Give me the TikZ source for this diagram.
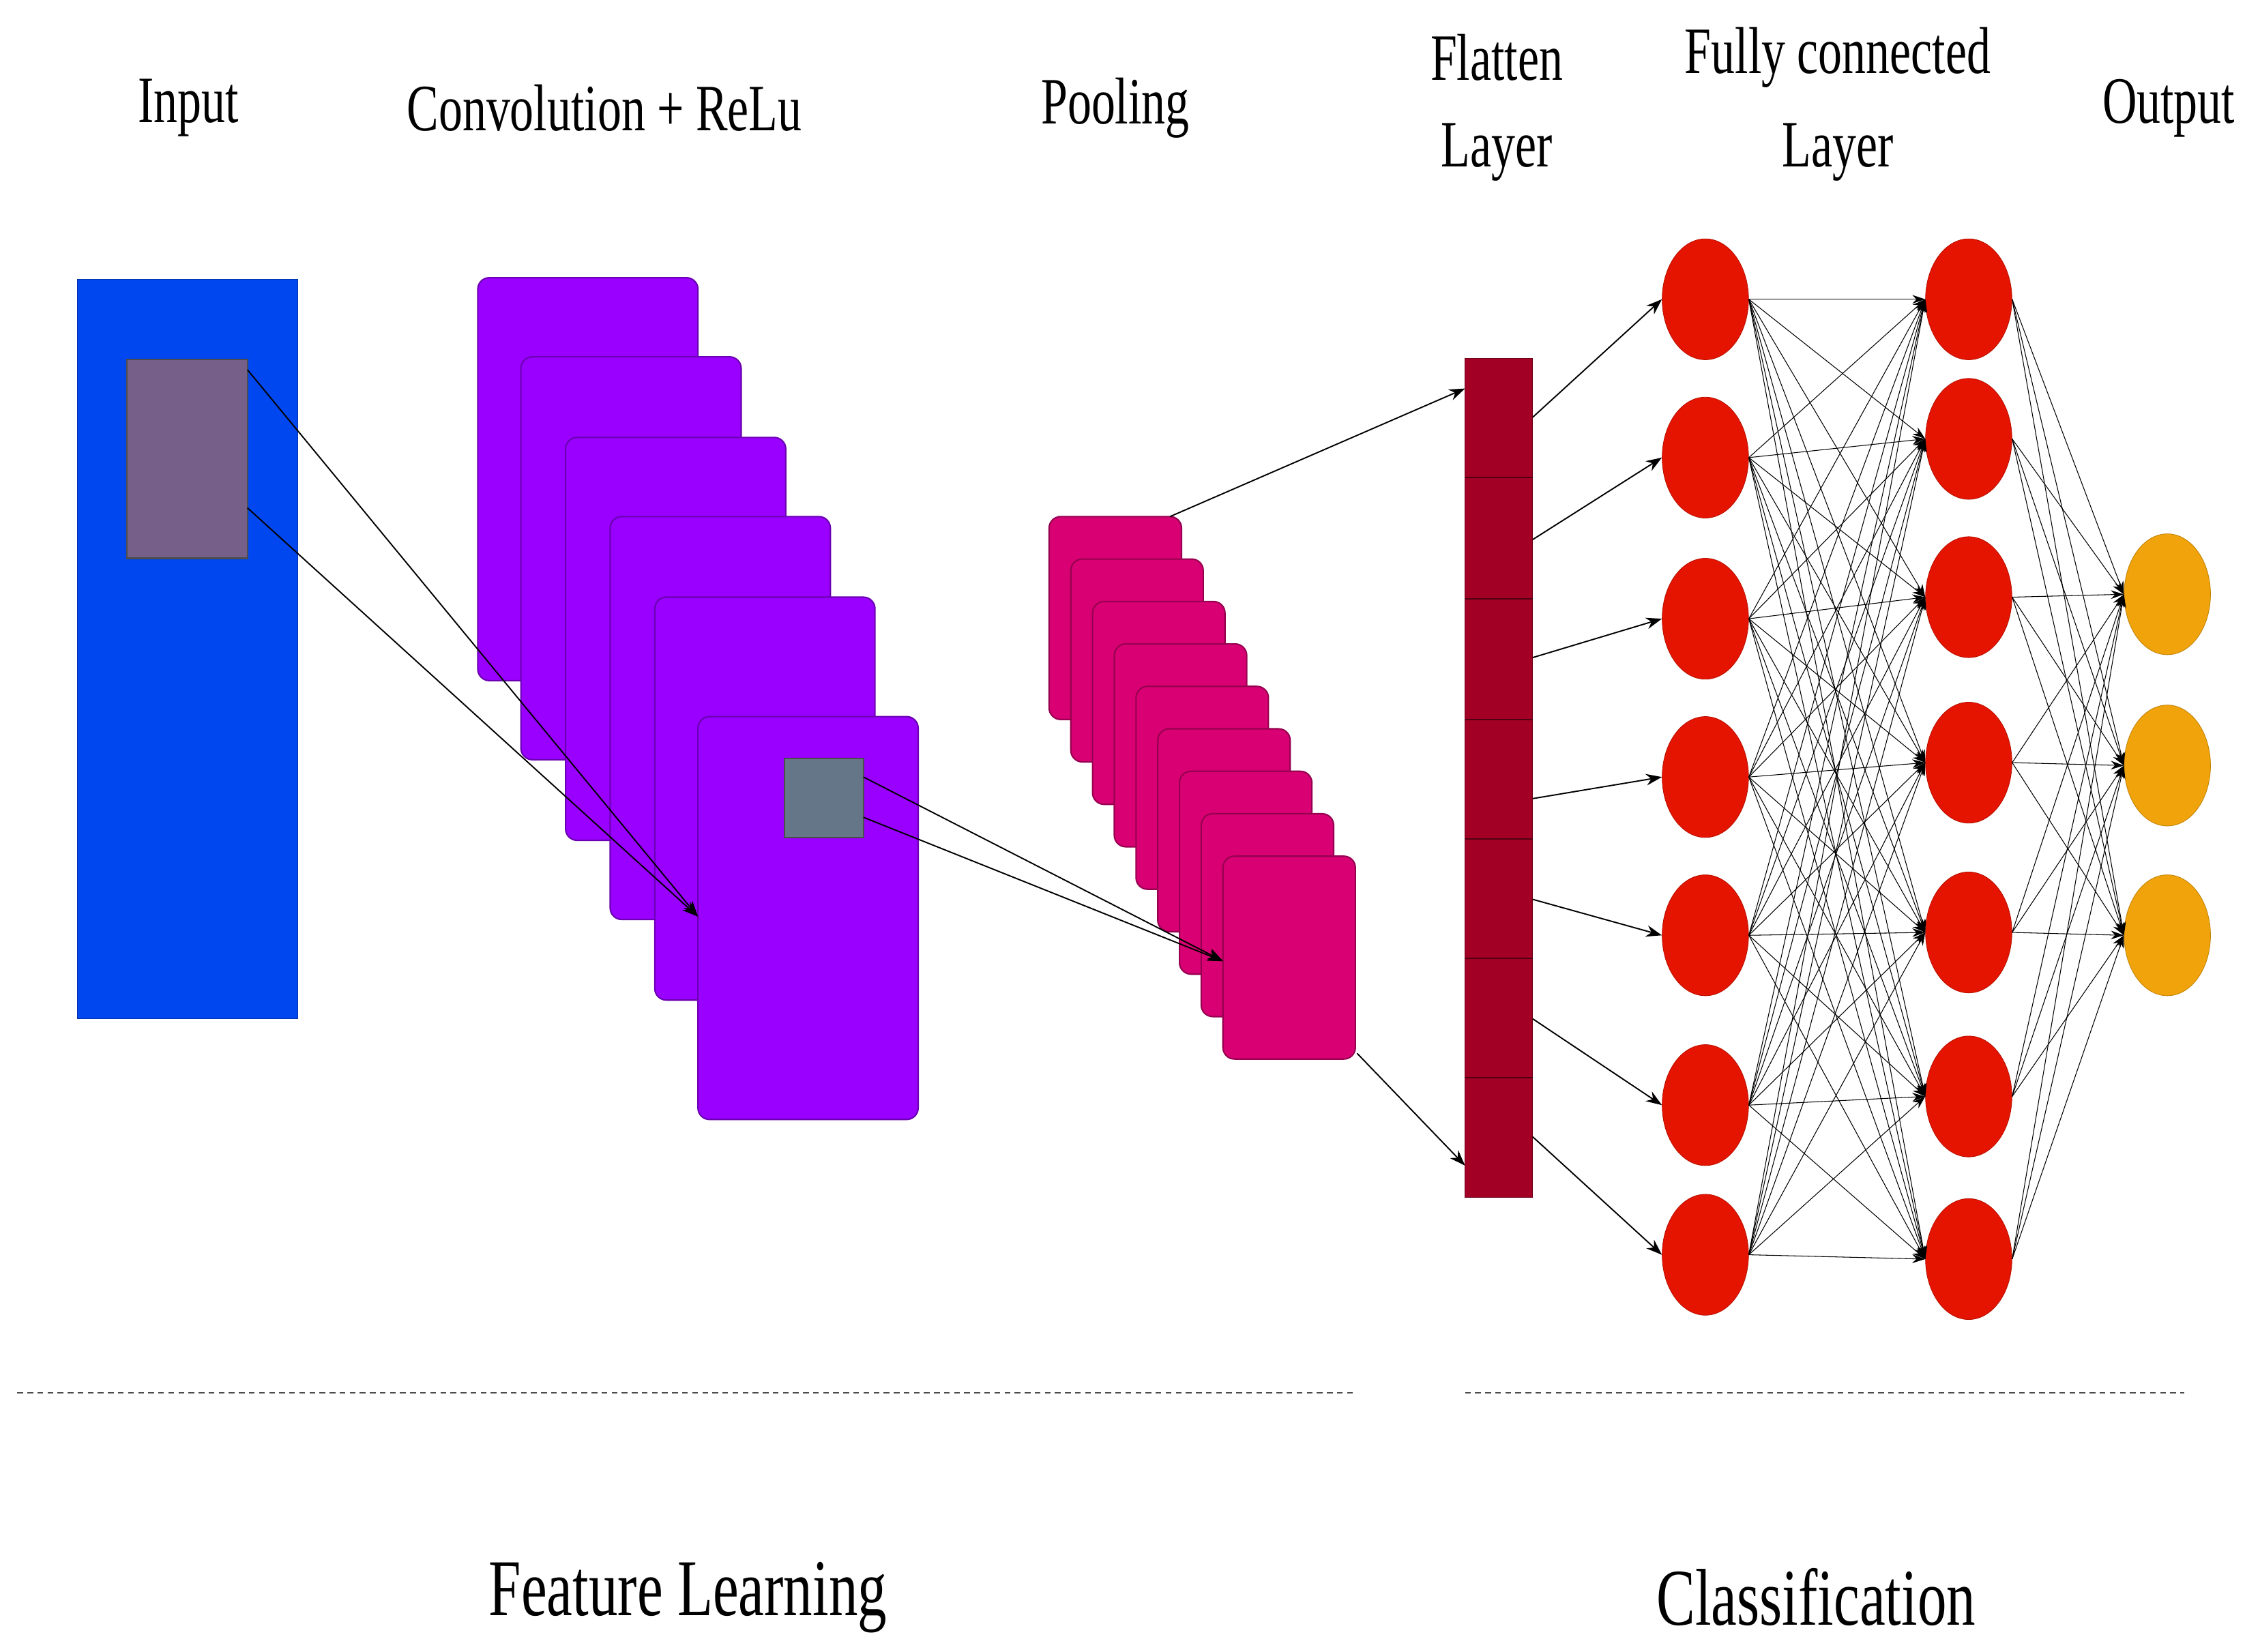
\documentclass[tikz,border=0pt]{standalone}
\usepackage{fontspec}
\setmainfont{Liberation Serif}
\usetikzlibrary{arrows.meta}
\definecolor{inblue}{HTML}{0047F0}
\definecolor{ingray}{HTML}{76608A}
\definecolor{cpurple}{HTML}{9900FF}
\definecolor{cgray}{HTML}{647687}
\definecolor{ppink}{HTML}{D80073}
\definecolor{fred}{HTML}{A20025}
\definecolor{nred}{HTML}{E51400}
\definecolor{oorange}{HTML}{F0A30A}
\begin{document}
\begin{tikzpicture}[x=1pt,y=-1pt,
 lab/.style={font=\fontsize{46}{50}\selectfont, xscale=0.72},
 big/.style={font=\fontsize{56}{60}\selectfont, xscale=0.72},
 conv/.style={draw=cpurple!70!black,fill=cpurple,rounded corners=8pt,line width=1pt},
 pool/.style={draw=ppink!70!black,fill=ppink,rounded corners=8pt,line width=1pt},
 neu/.style={ellipse,draw=nred!80!black,fill=nred,minimum width=60pt,minimum height=84pt,inner sep=0pt},
 outn/.style={ellipse,draw=oorange!80!black,fill=oorange,minimum width=60pt,minimum height=84pt,inner sep=0pt},
 arr/.style={-{Stealth[length=11pt,width=8pt]},line width=0.9pt},
 thin/.style={-{Stealth[length=9pt,width=6pt]},line width=0.5pt}]
\useasboundingbox (0,0) rectangle (1560,1148);
\fill[white] (0,0) rectangle (1560,1148);
\usetikzlibrary{shapes.geometric}
% labels
\node[lab] (tin) at (131,75) {Input};
\node[lab] (tconv) at (420,75) {Convolution + ReLu};
\node[lab] (tpool) at (775,75) {Pooling};
\node[lab] (tfl1) at (1040,40) {Flatten};
\node[lab] (tfl2) at (1040,106) {Layer};
\node[lab] (tfc1) at (1277,40) {Fully connected};
\node[lab] (tfc2) at (1277,106) {Layer};
\node[lab] (tout) at (1507,75) {Output};
\node[big] (tfeat) at (478,1110) {Feature Learning};
\node[big] (tcls) at (1262,1110) {Classification};
% input
\draw[fill=inblue,draw=inblue!70!black] (54,194) rectangle (207,708);
\draw[fill=ingray,draw=black!70,line width=1pt] (88,250) rectangle (172,388);
\coordinate (ia) at (172,257); \coordinate (ib) at (172,353);
% conv stack
\foreach \x/\y in {332/193,362/248,393/304,424/359,455/415,485/498}
  \draw[conv] (\x,\y) rectangle ++(153,280);
\draw[fill=cgray,draw=black!70,line width=1pt] (545,527) rectangle (600,582);
\coordinate (ct) at (485,637);
\coordinate (ca) at (600,540); \coordinate (cb) at (600,568);
\draw[arr] (ia) -- (ct); \draw[arr] (ib) -- (ct);
% pooling stack
\foreach \i in {0,...,8}
  \draw[pool] ({729+15.1*\i},{359+29.5*\i}) rectangle ++(92,141);
\coordinate (pt) at (850,668);
\draw[arr] (ca) -- (pt); \draw[arr] (cb) -- (pt);
% flatten
\draw[fill=fred,draw=fred!70!black] (1018,249) rectangle (1065,832);
\foreach \y in {332,416,500,583,666,749} \draw[black!50!fred,line width=1pt] (1018,\y) -- (1065,\y);
\coordinate (fa) at (1018,270); \coordinate (fb) at (1018,810);
\coordinate (pa) at (813,359); \coordinate (pb) at (943,732);
\draw[arr] (pa) -- (fa); \draw[arr] (pb) -- (fb);
% neurons
\foreach \i/\y in {1/208,2/318,3/430,4/540,5/650,6/768,7/872} \node[neu] (a\i) at (1185,\y) {};
\foreach \i/\y in {1/208,2/305,3/415,4/530,5/648,6/762,7/875} \node[neu] (b\i) at (1368,\y) {};
\foreach \i/\y in {1/413,2/532,3/650} \node[outn] (o\i) at (1506,\y) {};
\foreach \i/\y in {1/290,2/375,3/457,4/555,5/625,6/708,7/790} {
  \coordinate (f\i) at (1065,\y);
  \draw[arr] (f\i) -- (a\i.west);}
\foreach \i in {1,...,7} \foreach \j in {1,...,7} \draw[thin] (a\i.east) -- (b\j.west);
\foreach \i in {1,...,7} \foreach \j in {1,2,3} \draw[thin] (b\i.east) -- (o\j.west);
% dashed lines
\coordinate (d1) at (12,968); \coordinate (d2) at (940,968);
\coordinate (d3) at (1018,968); \coordinate (d4) at (1518,968);
\draw[dashed,dash pattern=on 4pt off 3pt,line width=1pt,black!70] (d1) -- (d2);
\draw[dashed,dash pattern=on 4pt off 3pt,line width=1pt,black!70] (d3) -- (d4);
\end{tikzpicture}
\end{document}
